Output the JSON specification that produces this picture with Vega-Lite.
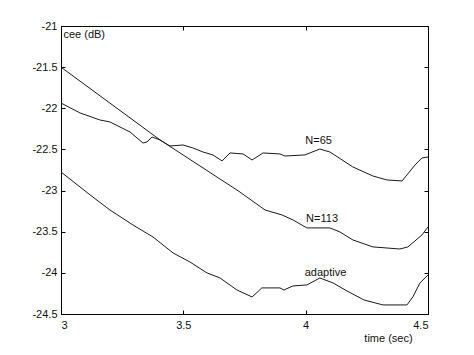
{
  "$schema": "https://vega.github.io/schema/vega-lite/v6.json",
  "width": 367,
  "height": 288,
  "autosize": "none",
  "padding": {"left": 61, "top": 26, "right": 46, "bottom": 41},
  "background": "white",
  "config": {
    "view": {"stroke": "black", "strokeWidth": 1},
    "font": "Liberation Sans",
    "axis": {
      "grid": false,
      "domainColor": "black",
      "tickColor": "black",
      "labelColor": "#111",
      "labelFont": "Liberation Sans",
      "labelFontSize": 11,
      "titleFont": "Liberation Sans",
      "titleFontWeight": "normal",
      "titleFontSize": 11,
      "titleColor": "#111"
    }
  },
  "datasets": {
    "curves": [
      {"series": "N=113", "t": 3.0, "v": -21.5},
      {"series": "N=113", "t": 3.405, "v": -22.385},
      {"series": "N=113", "t": 3.731, "v": -23.017},
      {"series": "N=113", "t": 3.834, "v": -23.236},
      {"series": "N=113", "t": 3.903, "v": -23.296},
      {"series": "N=113", "t": 3.948, "v": -23.357},
      {"series": "N=113", "t": 4.005, "v": -23.454},
      {"series": "N=113", "t": 4.099, "v": -23.454},
      {"series": "N=113", "t": 4.14, "v": -23.503},
      {"series": "N=113", "t": 4.193, "v": -23.6},
      {"series": "N=113", "t": 4.275, "v": -23.685},
      {"series": "N=113", "t": 4.385, "v": -23.71},
      {"series": "N=113", "t": 4.418, "v": -23.685},
      {"series": "N=113", "t": 4.475, "v": -23.54},
      {"series": "N=113", "t": 4.5, "v": -23.442},
      {"series": "N=65", "t": 3.0, "v": -21.936},
      {"series": "N=65", "t": 3.078, "v": -22.057},
      {"series": "N=65", "t": 3.159, "v": -22.142},
      {"series": "N=65", "t": 3.2, "v": -22.166},
      {"series": "N=65", "t": 3.282, "v": -22.288},
      {"series": "N=65", "t": 3.335, "v": -22.422},
      {"series": "N=65", "t": 3.351, "v": -22.409},
      {"series": "N=65", "t": 3.372, "v": -22.349},
      {"series": "N=65", "t": 3.405, "v": -22.385},
      {"series": "N=65", "t": 3.445, "v": -22.458},
      {"series": "N=65", "t": 3.499, "v": -22.446},
      {"series": "N=65", "t": 3.539, "v": -22.482},
      {"series": "N=65", "t": 3.58, "v": -22.531},
      {"series": "N=65", "t": 3.621, "v": -22.567},
      {"series": "N=65", "t": 3.658, "v": -22.64},
      {"series": "N=65", "t": 3.691, "v": -22.543},
      {"series": "N=65", "t": 3.744, "v": -22.555},
      {"series": "N=65", "t": 3.781, "v": -22.628},
      {"series": "N=65", "t": 3.826, "v": -22.543},
      {"series": "N=65", "t": 3.895, "v": -22.555},
      {"series": "N=65", "t": 3.915, "v": -22.58},
      {"series": "N=65", "t": 3.997, "v": -22.567},
      {"series": "N=65", "t": 4.058, "v": -22.495},
      {"series": "N=65", "t": 4.099, "v": -22.531},
      {"series": "N=65", "t": 4.193, "v": -22.713},
      {"series": "N=65", "t": 4.275, "v": -22.823},
      {"series": "N=65", "t": 4.332, "v": -22.871},
      {"series": "N=65", "t": 4.394, "v": -22.883},
      {"series": "N=65", "t": 4.447, "v": -22.689},
      {"series": "N=65", "t": 4.475, "v": -22.604},
      {"series": "N=65", "t": 4.5, "v": -22.592},
      {"series": "adaptive", "t": 3.0, "v": -22.774},
      {"series": "adaptive", "t": 3.119, "v": -23.053},
      {"series": "adaptive", "t": 3.2, "v": -23.236},
      {"series": "adaptive", "t": 3.294, "v": -23.418},
      {"series": "adaptive", "t": 3.376, "v": -23.564},
      {"series": "adaptive", "t": 3.458, "v": -23.758},
      {"series": "adaptive", "t": 3.527, "v": -23.868},
      {"series": "adaptive", "t": 3.597, "v": -24.001},
      {"series": "adaptive", "t": 3.65, "v": -24.062},
      {"series": "adaptive", "t": 3.719, "v": -24.208},
      {"series": "adaptive", "t": 3.781, "v": -24.293},
      {"series": "adaptive", "t": 3.821, "v": -24.183},
      {"series": "adaptive", "t": 3.854, "v": -24.183},
      {"series": "adaptive", "t": 3.895, "v": -24.183},
      {"series": "adaptive", "t": 3.911, "v": -24.208},
      {"series": "adaptive", "t": 3.948, "v": -24.159},
      {"series": "adaptive", "t": 4.005, "v": -24.147},
      {"series": "adaptive", "t": 4.058, "v": -24.062},
      {"series": "adaptive", "t": 4.112, "v": -24.123},
      {"series": "adaptive", "t": 4.169, "v": -24.22},
      {"series": "adaptive", "t": 4.238, "v": -24.329},
      {"series": "adaptive", "t": 4.316, "v": -24.39},
      {"series": "adaptive", "t": 4.414, "v": -24.39},
      {"series": "adaptive", "t": 4.438, "v": -24.293},
      {"series": "adaptive", "t": 4.467, "v": -24.123},
      {"series": "adaptive", "t": 4.5, "v": -24.026}
    ],
    "labels": [
      {"t": 4.053, "v": -22.397, "text": "N=65", "align": "center"},
      {"t": 4.067, "v": -23.351, "text": "N=113", "align": "center"},
      {"t": 4.081, "v": -24.0, "text": "adaptive", "align": "center"}
    ],
    "ylabel": [
      {"t": 3.01, "v": -21.115, "text": "cee (dB)"}
    ]
  },
  "layer": [
    {
      "data": {"name": "curves"},
      "mark": {"type": "line", "color": "#1a1a1a", "strokeWidth": 1, "clip": true},
      "encoding": {
        "x": {
          "field": "t", "type": "quantitative",
          "scale": {"domain": [3, 4.5], "nice": false, "zero": false},
          "axis": {
            "values": [3, 3.5, 4, 4.5],
            "tickSize": -4,
            "labelPadding": 9,
            "labelExpr": "replace(format(datum.value, '~g'), '\u2212', '-')",
            "title": "time (sec)",
            "titleX": 327,
            "titleY": 27,
            "titleAlign": "center",
            "titleBaseline": "alphabetic",
            "titleAnchor": null
          }
        },
        "y": {
          "field": "v", "type": "quantitative",
          "scale": {"domain": [-24.5, -21], "nice": false, "zero": false},
          "axis": {
            "values": [-24.5, -24, -23.5, -23, -22.5, -22, -21.5, -21],
            "tickSize": -4,
            "labelPadding": 8,
            "labelExpr": "replace(format(datum.value, '~g'), '\u2212', '-')",
            "title": null
          }
        },
        "detail": {"field": "series", "type": "nominal"}
      }
    },
    {
      "data": {"name": "labels"},
      "mark": {"type": "text", "fontSize": 11, "font": "Liberation Sans", "color": "#111", "align": "center", "baseline": "middle"},
      "encoding": {
        "x": {"field": "t", "type": "quantitative",
          "axis": {"orient": "top", "values": [3, 3.5, 4, 4.5], "tickSize": -4, "labels": false, "title": null}},
        "y": {"field": "v", "type": "quantitative",
          "axis": {"orient": "right", "values": [-24.5, -24, -23.5, -23, -22.5, -22, -21.5, -21], "tickSize": -4, "labels": false, "title": null}},
        "text": {"field": "text", "type": "nominal"}
      }
    },
    {
      "data": {"name": "ylabel"},
      "mark": {"type": "text", "fontSize": 11, "font": "Liberation Sans", "color": "#111", "align": "left", "baseline": "middle"},
      "encoding": {
        "x": {"field": "t", "type": "quantitative", "axis": null},
        "y": {"field": "v", "type": "quantitative", "axis": null},
        "text": {"field": "text", "type": "nominal"}
      }
    }
  ],
  "resolve": {"axis": {"x": "independent", "y": "independent"}}
}
